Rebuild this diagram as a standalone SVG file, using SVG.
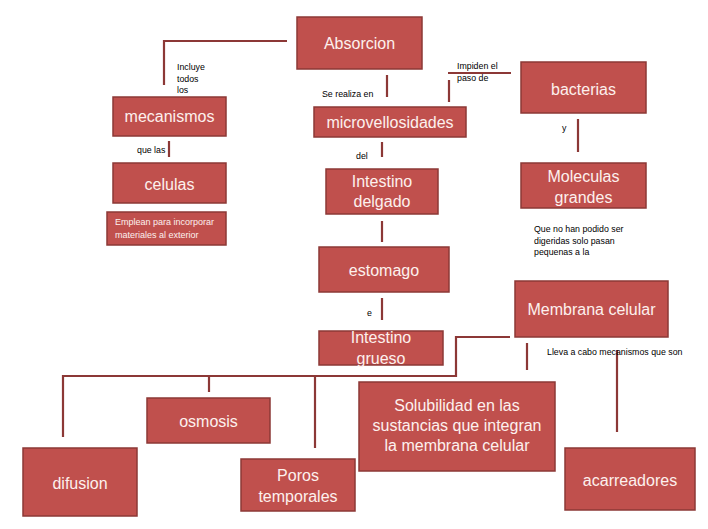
<svg xmlns="http://www.w3.org/2000/svg" width="708" height="529" viewBox="0 0 708 529">
<style>
.box{fill:#C0504D;stroke:#8C3836;stroke-width:1.5}
.bt{font-family:"Liberation Sans",Arial,sans-serif;font-size:16px;fill:#FDF0EE;text-anchor:middle}
.st{font-family:"Liberation Sans",Arial,sans-serif;font-size:8.8px;fill:#000}
.wt{font-family:"Liberation Sans",Arial,sans-serif;font-size:9px;fill:#FDF0EE}
.ln{fill:none;stroke:#8C3836;stroke-width:2.2}
</style>
<rect width="708" height="529" fill="#fff"/>
<g id="connectors">
<path class="ln" d="M287 41 H164 V85"/>
<path class="ln" d="M387 75 V97"/>
<path class="ln" d="M448 73 H511 M449 80 V102"/>
<path class="ln" d="M169 141 V157"/>
<path class="ln" d="M382 142 V157"/>
<path class="ln" d="M382 221 V242"/>
<path class="ln" d="M382 298 V320"/>
<path class="ln" d="M578 119 V152"/>
<path class="ln" d="M510 337 H456 V376 H63 V437"/>
<path class="ln" d="M209 376 V392"/>
<path class="ln" d="M315 376 V448"/>
<path class="ln" d="M527 343 V370"/>
<path class="ln" d="M617 350 V432"/>
</g>
<g id="labels">
<text class="st" x="177" y="70">Incluye</text>
<text class="st" x="177" y="82">todos</text>
<text class="st" x="177" y="93">los</text>
<text class="st" x="322" y="97">Se realiza en</text>
<text class="st" x="457" y="69">Impiden el</text>
<text class="st" x="457" y="81">paso de</text>
<text class="st" x="137" y="153">que las</text>
<text class="st" x="356" y="159">del</text>
<text class="st" x="562" y="131">y</text>
<text class="st" x="367" y="316">e</text>
<text class="st" x="534" y="232">Que no han podido ser</text>
<text class="st" x="534" y="244">digeridas solo pasan</text>
<text class="st" x="534" y="255">pequenas a la</text>
<text class="st" x="547" y="355">Lleva a cabo mecanismos que son</text>
</g>
<g id="absorcion"><rect class="box" x="297" y="17" width="125" height="52"/><text class="bt" x="359.5" y="49">Absorcion</text></g>
<g id="mecanismos"><rect class="box" x="113" y="97" width="113" height="39"/><text class="bt" x="169.5" y="122">mecanismos</text></g>
<g id="celulas"><rect class="box" x="113" y="163" width="113" height="40"/><text class="bt" x="169.5" y="190">celulas</text></g>
<g id="emplean"><rect class="box" x="107" y="212" width="119" height="33"/><text class="wt" x="115" y="225">Emplean para incorporar</text><text class="wt" x="115" y="238">materiales al exterior</text></g>
<g id="microvellosidades"><rect class="box" x="314" y="107" width="152" height="30"/><text class="bt" x="390" y="128">microvellosidades</text></g>
<g id="intestino-delgado"><rect class="box" x="326" y="169" width="112" height="45"/><text class="bt" x="382" y="187">Intestino</text><text class="bt" x="382" y="207">delgado</text></g>
<g id="estomago"><rect class="box" x="319" y="247" width="130" height="45"/><text class="bt" x="384" y="276">estomago</text></g>
<g id="intestino-grueso"><rect class="box" x="319" y="331" width="124" height="34"/><text class="bt" x="381" y="343">Intestino</text><text class="bt" x="381" y="364">grueso</text></g>
<g id="bacterias"><rect class="box" x="521" y="62" width="125" height="51"/><text class="bt" x="583.5" y="95">bacterias</text></g>
<g id="moleculas"><rect class="box" x="521" y="163" width="125" height="45"/><text class="bt" x="583.5" y="182">Moleculas</text><text class="bt" x="583.5" y="203">grandes</text></g>
<g id="membrana"><rect class="box" x="515" y="281" width="153" height="56"/><text class="bt" x="591.5" y="315">Membrana celular</text></g>
<g id="osmosis"><rect class="box" x="147" y="398" width="123" height="45"/><text class="bt" x="208.5" y="427">osmosis</text></g>
<g id="difusion"><rect class="box" x="23" y="448" width="114" height="68"/><text class="bt" x="80" y="489">difusion</text></g>
<g id="poros"><rect class="box" x="241" y="459" width="114" height="52"/><text class="bt" x="298" y="481">Poros</text><text class="bt" x="298" y="502">temporales</text></g>
<g id="solubilidad"><rect class="box" x="359" y="382" width="196" height="89"/><text class="bt" x="457" y="411">Solubilidad en las</text><text class="bt" x="457" y="431">sustancias que integran</text><text class="bt" x="457" y="451">la membrana celular</text></g>
<g id="acarreadores"><rect class="box" x="565" y="448" width="130" height="62"/><text class="bt" x="630" y="486">acarreadores</text></g>
</svg>
